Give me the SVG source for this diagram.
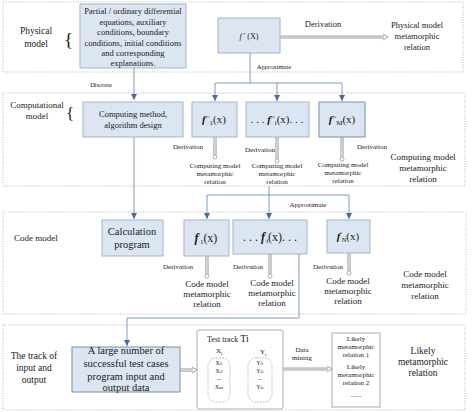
<svg xmlns="http://www.w3.org/2000/svg" width="474" height="412" viewBox="0 0 474 412">
<defs>
<marker id="ab" viewBox="0 0 6 6" refX="6" refY="3" markerWidth="6" markerHeight="6" markerUnits="userSpaceOnUse" orient="auto">
<path d="M0,0 L6,3 L0,6 Z" fill="#4a6aa5"/>
</marker>
<marker id="ah" viewBox="0 0 8 8" refX="7" refY="4" markerWidth="7" markerHeight="7" markerUnits="userSpaceOnUse" orient="auto">
<path d="M1,1 L7,4 L1,7" fill="none" stroke="#9a9a9a" stroke-width="1"/>
</marker>
</defs>
<style>
text{font-family:"Liberation Serif","Times New Roman",serif;fill:#1a1a1a}
.sec{fill:none;stroke:#b8b8b8;stroke-width:1;stroke-dasharray:1 1.5}
.box{fill:#dce6f2;stroke:#a7b4c4;stroke-width:1}
.box2{fill:#dce6f2;stroke:#7f8fa5;stroke-width:1}
.wbox{fill:#ffffff;stroke:#9a9a9a;stroke-width:0.8}
.con{fill:none;stroke:#6f8ec0;stroke-width:0.9}
.sh{fill:none;stroke:#a3a3a3;stroke-width:3.2}
.shi{fill:none;stroke:#ececec;stroke-width:1.2}
.m{text-anchor:middle}
</style>

<g id="sections">
<rect class="sec" x="3" y="2" width="460" height="70"/>
<rect class="sec" x="3" y="93" width="462" height="93"/>
<rect class="sec" x="3" y="212" width="463" height="102"/>
<rect class="sec" x="3" y="325" width="462" height="85"/>
</g>

<g id="labels">
<text class="m" x="36" y="34" font-size="9.5">Physical</text>
<text class="m" x="36" y="47" font-size="9.5">model</text>
<text x="64" y="46" font-size="19">{</text>
<text class="m" x="37" y="108" font-size="9">Computational</text>
<text class="m" x="37" y="119" font-size="9">model</text>
<text x="66" y="119" font-size="17">{</text>
<text x="14" y="241" font-size="9">Code model</text>
<text class="m" x="34" y="359" font-size="9.5">The track of</text>
<text class="m" x="34" y="371" font-size="9.5">input and</text>
<text class="m" x="34" y="383" font-size="9.5">output</text>
</g>

<g id="connectors">
<path class="con" d="M134,68 V100" marker-end="url(#ab)"/>
<path class="con" d="M134,137 V219" marker-end="url(#ab)"/>
<path class="con" d="M250,53 V83"/>
<path class="con" d="M215,83 H342"/>
<path class="con" d="M215,83 V101" marker-end="url(#ab)"/>
<path class="con" d="M277,83 V101" marker-end="url(#ab)"/>
<path class="con" d="M342,83 V101" marker-end="url(#ab)"/>
<path class="con" d="M269,186 V219" marker-end="url(#ab)"/>
<path class="con" d="M207,195 H349"/>
<path class="con" d="M207,195 V219" marker-end="url(#ab)"/>
<path class="con" d="M349,195 V219" marker-end="url(#ab)"/>
<path class="con" d="M299,254 V318 H127 V346" marker-end="url(#ab)"/>
<text class="m" x="101" y="87" font-size="6.5">Discrete</text>
<text class="m" x="274" y="69" font-size="6.5">Approximate</text>
<text class="m" x="308" y="207" font-size="7">Approximate</text>

<path class="sh" d="M280,37 H384"/><path class="shi" d="M280,37 H384"/>
<path d="M383,34 L388,37 L383,40" fill="none" stroke="#9a9a9a" stroke-width="0.9"/>
<text class="m" x="323" y="27" font-size="8.5">Derivation</text>

<path class="sh" d="M215,137 V155"/><path class="shi" d="M215,137 V155"/>
<circle cx="215" cy="157" r="2" fill="#fff" stroke="#999" stroke-width="0.8"/>
<path class="sh" d="M277,137 V159"/><path class="shi" d="M277,137 V159"/>
<circle cx="277" cy="161" r="2" fill="#fff" stroke="#999" stroke-width="0.8"/>
<path class="sh" d="M342,137 V157"/><path class="shi" d="M342,137 V157"/>
<circle cx="342" cy="159" r="2" fill="#fff" stroke="#999" stroke-width="0.8"/>
<text class="m" x="188" y="149" font-size="7">Derivation</text>
<text class="m" x="260" y="152" font-size="7">Derivation</text>
<text class="m" x="372" y="149" font-size="7">Derivation</text>

<path class="sh" d="M207,256 V274"/><path class="shi" d="M207,256 V274"/>
<circle cx="207" cy="276" r="2" fill="#fff" stroke="#999" stroke-width="0.8"/>
<path class="sh" d="M270,254 V274"/><path class="shi" d="M270,254 V274"/>
<circle cx="270" cy="276" r="2" fill="#fff" stroke="#999" stroke-width="0.8"/>
<path class="sh" d="M349,253 V271"/><path class="shi" d="M349,253 V271"/>
<circle cx="349" cy="273" r="2" fill="#fff" stroke="#999" stroke-width="0.8"/>
<text class="m" x="178" y="269" font-size="7">Derivation</text>
<text class="m" x="248" y="269" font-size="7">Derivation</text>
<text class="m" x="328" y="269" font-size="7">Derivation</text>

<path class="sh" d="M180,370 H193"/><path class="shi" d="M180,370 H193"/>
<path d="M192,367 L197,370 L192,373" fill="none" stroke="#9a9a9a" stroke-width="0.9"/>
<path class="sh" d="M283,369 H328"/><path class="shi" d="M283,369 H328"/>
<path d="M327,366 L332,369 L327,372" fill="none" stroke="#9a9a9a" stroke-width="0.9"/>
<text class="m" x="302" y="352" font-size="7">Data</text>
<text class="m" x="302" y="360" font-size="7">mining</text>
</g>

<g id="n-physical-eq">
<rect class="box" x="80" y="4" width="106" height="64"/>
<text class="m" x="133" y="14" font-size="8.5">Partial / ordinary differential</text>
<text class="m" x="133" y="24.5" font-size="8.5">equations, auxiliary</text>
<text class="m" x="133" y="35" font-size="8.5">conditions, boundary</text>
<text class="m" x="133" y="45.5" font-size="8.5">conditions, initial conditions</text>
<text class="m" x="133" y="56" font-size="8.5">and corresponding</text>
<text class="m" x="133" y="66" font-size="8.5">explanations.</text>
</g>

<g id="n-fprime">
<rect class="box" x="218" y="18" width="62" height="35"/>
<text class="m" x="249" y="39" font-size="8"><tspan font-style="italic">f</tspan> ' (X)</text>
</g>

<g id="n-physical-mr">
<text class="m" x="417" y="28" font-size="8.5">Physical model</text>
<text class="m" x="417" y="39" font-size="8.5">metamorphic</text>
<text class="m" x="417" y="50" font-size="8.5">relation</text>
</g>

<g id="n-computing-method">
<rect class="box" x="83" y="102" width="100" height="35"/>
<text class="m" x="133" y="117" font-size="8.5">Computing method,</text>
<text class="m" x="133" y="128" font-size="8.5">algorithm design</text>
</g>

<g id="n-f1">
<rect class="box" x="192" y="102" width="45" height="35"/>
<text class="m" x="214" y="123" font-size="11"><tspan font-style="italic" font-weight="bold">f</tspan><tspan dy="-4" font-size="7">~</tspan><tspan dy="6" font-size="7">1</tspan><tspan dy="-2">(x)</tspan></text>
<text class="m" x="215" y="168" font-size="7">Computing model</text>
<text class="m" x="215" y="176" font-size="7">metamorphic</text>
<text class="m" x="215" y="184" font-size="7">relation</text>
</g>

<g id="n-fi">
<rect class="box" x="246" y="102" width="63" height="35"/>
<text class="m" x="277" y="123" font-size="11">. . . <tspan font-style="italic" font-weight="bold">f</tspan><tspan dy="-4" font-size="7">~</tspan><tspan dy="6" font-size="7">i</tspan><tspan dy="-2">(x). . .</tspan></text>
<text class="m" x="277" y="168" font-size="7">Computing model</text>
<text class="m" x="277" y="176" font-size="7">metamorphic</text>
<text class="m" x="277" y="184" font-size="7">relation</text>
</g>

<g id="n-fM">
<rect class="box2" x="319" y="102" width="46" height="35"/>
<text class="m" x="342" y="123" font-size="11"><tspan font-style="italic" font-weight="bold">f</tspan><tspan dy="-4" font-size="7">~</tspan><tspan dy="6" font-size="7">M</tspan><tspan dy="-2">(x)</tspan></text>
<text class="m" x="343" y="167" font-size="7">Computing model</text>
<text class="m" x="343" y="175" font-size="7">metamorphic</text>
<text class="m" x="343" y="183" font-size="7">relation</text>
</g>

<g id="n-computing-mr">
<text class="m" x="423" y="160" font-size="9">Computing model</text>
<text class="m" x="423" y="171" font-size="9">metamorphic</text>
<text class="m" x="423" y="182" font-size="9">relation</text>
</g>

<g id="n-calc">
<rect class="box" x="102" y="220" width="61" height="36"/>
<text class="m" x="132" y="235" font-size="10.5">Calculation</text>
<text class="m" x="132" y="248" font-size="10.5">program</text>
</g>

<g id="n-fp1">
<rect class="box" x="184" y="220" width="45" height="36"/>
<text class="m" x="206" y="242" font-size="12"><tspan font-style="italic" font-weight="bold">f</tspan><tspan dy="-4" font-size="7">'</tspan><tspan dy="6" font-size="7">1</tspan><tspan dy="-2">(x)</tspan></text>
<text class="m" x="207" y="287" font-size="9">Code model</text>
<text class="m" x="207" y="297" font-size="9">metamorphic</text>
<text class="m" x="207" y="307" font-size="9">relation</text>
</g>

<g id="n-fpi">
<rect class="box" x="233" y="220" width="74" height="34"/>
<text class="m" x="270" y="241" font-size="12">. . . <tspan font-style="italic" font-weight="bold">f</tspan><tspan dy="-4" font-size="7">'</tspan><tspan dy="6" font-size="7">i</tspan><tspan dy="-2">(x). . .</tspan></text>
<text class="m" x="272" y="286" font-size="9">Code model</text>
<text class="m" x="272" y="296" font-size="9">metamorphic</text>
<text class="m" x="272" y="306" font-size="9">relation</text>
</g>

<g id="n-fpN">
<rect class="box" x="327" y="220" width="43" height="33"/>
<text class="m" x="348" y="240" font-size="11"><tspan font-style="italic" font-weight="bold">f</tspan><tspan dy="-4" font-size="6.5">'</tspan><tspan dy="6" font-size="6.5">N</tspan><tspan dy="-2">(x)</tspan></text>
<text class="m" x="348" y="284" font-size="9">Code model</text>
<text class="m" x="348" y="294" font-size="9">metamorphic</text>
<text class="m" x="348" y="304" font-size="9">relation</text>
</g>

<g id="n-code-mr">
<text class="m" x="425" y="277" font-size="9">Code model</text>
<text class="m" x="425" y="288" font-size="9">metamorphic</text>
<text class="m" x="425" y="299" font-size="9">relation</text>
</g>

<g id="n-data">
<rect class="box2" x="72" y="347" width="108" height="45"/>
<text class="m" x="126" y="354" font-size="10.5">A large number of</text>
<text class="m" x="126" y="367" font-size="10.5">successful test cases</text>
<text class="m" x="126" y="379.5" font-size="10.5">program input and</text>
<text class="m" x="126" y="391" font-size="10.5">output data</text>
</g>

<g id="n-track">
<rect class="wbox" x="197" y="330" width="86" height="79" rx="2"/>
<text x="207" y="342" font-size="8">Test track <tspan font-size="10">Ti</tspan></text>
<text x="216" y="353" font-size="7">X<tspan dy="2" font-size="5">i</tspan></text>
<text x="260" y="354" font-size="7">Y<tspan dy="2" font-size="5">i</tspan></text>
<rect x="208" y="358" width="22" height="44" rx="8" fill="none" stroke="#aaa" stroke-width="0.7" stroke-dasharray="2 1"/>
<rect x="248" y="358" width="24" height="44" rx="8" fill="none" stroke="#aaa" stroke-width="0.7" stroke-dasharray="2 1"/>
<g font-size="5.5" fill="#444">
<text class="m" x="219" y="365">X<tspan font-size="4">i1</tspan></text>
<text class="m" x="219" y="373">X<tspan font-size="4">i2</tspan></text>
<text class="m" x="219" y="380">...</text>
<text class="m" x="219" y="389">X<tspan font-size="4">im</tspan></text>
<text class="m" x="260" y="365">Y<tspan font-size="4">i1</tspan></text>
<text class="m" x="260" y="373">Y<tspan font-size="4">i2</tspan></text>
<text class="m" x="260" y="380">...</text>
<text class="m" x="260" y="389">Y<tspan font-size="4">in</tspan></text>
</g>
</g>

<g id="n-likely-list">
<rect class="wbox" x="332" y="333" width="48" height="74"/>
<text class="m" x="356" y="341" font-size="7">Likely</text>
<text class="m" x="356" y="349" font-size="7">metamorphic</text>
<text class="m" x="356" y="357" font-size="7">relation 1</text>
<text class="m" x="356" y="369" font-size="7">Likely</text>
<text class="m" x="356" y="377" font-size="7">metamorphic</text>
<text class="m" x="356" y="385" font-size="7">relation 2</text>
<text class="m" x="356" y="397" font-size="7">......</text>
</g>

<g id="n-likely-mr">
<text class="m" x="423" y="354" font-size="9.5">Likely</text>
<text class="m" x="423" y="365" font-size="9.5">metamorphic</text>
<text class="m" x="423" y="376" font-size="9.5">relation</text>
</g>
</svg>
